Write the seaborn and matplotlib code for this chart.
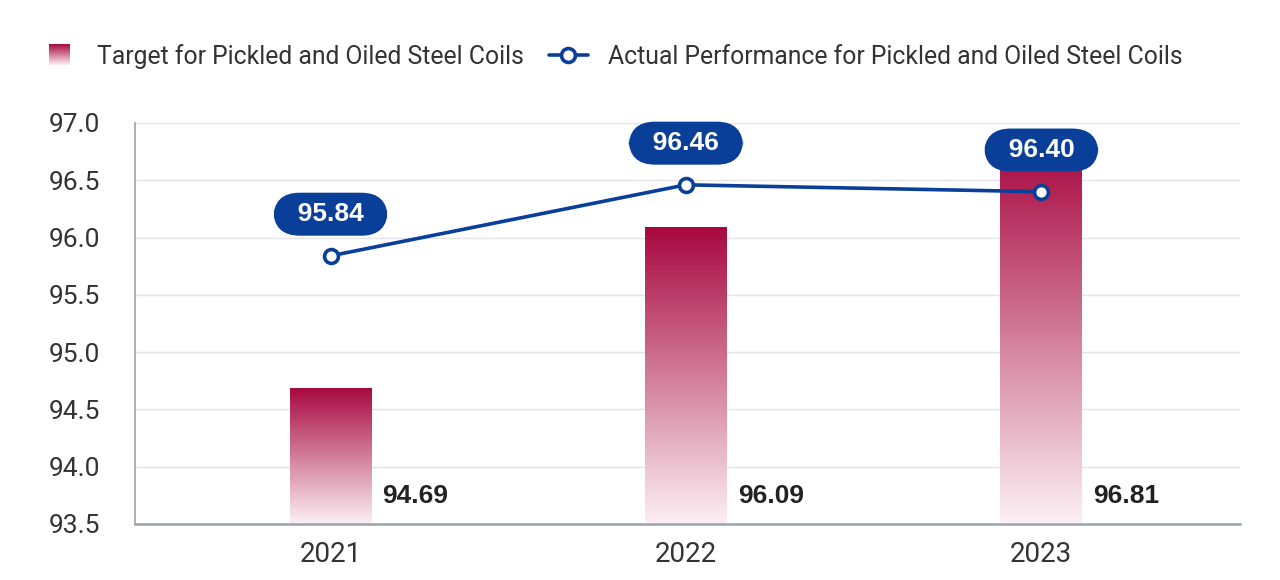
import numpy as np
import pandas as pd
import matplotlib
matplotlib.use("Agg")
import matplotlib.pyplot as plt
import seaborn as sns
from matplotlib.colors import LinearSegmentedColormap
from matplotlib.patches import Rectangle
from matplotlib.lines import Line2D
from matplotlib.image import BboxImage
from matplotlib.transforms import Bbox, TransformedBbox
from matplotlib.legend_handler import HandlerBase

years = ["2021", "2022", "2023"]
target = [94.69, 96.09, 96.81]
actual = [95.84, 96.46, 96.40]
yticks = [93.5, 94.0, 94.5, 95.0, 95.5, 96.0, 96.5, 97.0]

df = pd.DataFrame({"year": years, "target": target, "actual": actual})

sns.set_theme(style="white")
plt.rcParams["font.family"] = ["Roboto", "DejaVu Sans"]

crimson = "#a8083f"
blue = "#0a3f99"
cmap = LinearSegmentedColormap.from_list("grad", ["#fcf0f4", crimson])
grad = np.linspace(0, 1, 256).reshape(-1, 1)

fig = plt.figure(figsize=(12.8, 5.8), dpi=100)
ax = fig.add_axes([0.1055, 0.0966, 0.8635, 0.6914])

bw = 0.23
sns.barplot(data=df, x="year", y="target", ax=ax, width=bw, color=crimson, zorder=2)

# swap the solid bars for vertical gradients
for p in list(ax.patches):
    x0, w, h = p.get_x(), p.get_width(), p.get_height()
    top = p.get_y() + h
    p.set_visible(False)
    im = ax.imshow(grad, cmap=cmap, aspect="auto", origin="lower",
                   extent=[x0, x0 + w, 93.5, top], zorder=2)
    im.set_clip_path(Rectangle((x0, 93.5), w, top - 93.5, transform=ax.transData))

ax.set_xlim(-0.55, 2.56)
ax.set_ylim(93.5, 97.0)

xs = np.arange(len(years))
ax.plot(xs, df["actual"], color=blue, lw=2.6, zorder=4,
        marker="o", markersize=10, markerfacecolor="white",
        markeredgecolor=blue, markeredgewidth=2.6)

for i, v in enumerate(df["actual"]):
    ax.annotate(f"  {v:.2f}  ", (i, v), xytext=(0, 30), textcoords="offset points",
                ha="center", va="center", color="white", fontsize=19, fontweight="bold",
                family=["Liberation Sans", "DejaVu Sans"], zorder=6,
                bbox=dict(boxstyle="round,pad=0.36,rounding_size=1.0", fc=blue, ec="none"))

for i, v in enumerate(df["target"]):
    ax.annotate(f"{v:.2f}", (i + bw / 2, 93.5), xytext=(8, 20), textcoords="offset points",
                ha="left", va="center", color="#222222", fontsize=19, fontweight="bold",
                family=["Liberation Sans", "DejaVu Sans"], zorder=6)

ax.set_yticks(yticks)
ax.set_yticklabels([f"{t:.1f}" for t in yticks])
ax.set_xlabel("")
ax.set_ylabel("")
ax.grid(axis="y", color="#e2e4e6", lw=1, zorder=0)
ax.set_axisbelow(True)
ax.tick_params(axis="y", length=0, pad=25, labelsize=19, labelcolor="#333333")
ax.tick_params(axis="x", length=0, pad=12, labelsize=20, labelcolor="#333333")
for s in ["top", "right"]:
    ax.spines[s].set_visible(False)
ax.spines["left"].set_color("#9aa4aa")
ax.spines["left"].set_linewidth(1.2)
ax.spines["bottom"].set_color("#9aa4aa")
ax.spines["bottom"].set_linewidth(1.8)


class GradHandler(HandlerBase):
    def create_artists(self, legend, orig, xdescent, ydescent, width, height, fontsize, trans):
        side = height * 1.2
        bb = Bbox.from_bounds(-xdescent + (width - side) * 0.6, -ydescent + (height - side) / 2, side, side)
        img = BboxImage(TransformedBbox(bb, trans), cmap=cmap, origin="lower")
        img.set_data(grad)
        return [img]


grad_handle = Rectangle((0, 0), 1, 1, color=crimson)
line_handle = Line2D([], [], color=blue, lw=2.6, marker="o", markersize=10,
                     markerfacecolor="white", markeredgecolor=blue, markeredgewidth=2.6)
fig.legend([grad_handle, line_handle],
           ["Target for Pickled and Oiled Steel Coils",
            "Actual Performance for Pickled and Oiled Steel Coils"],
           handler_map={Rectangle: GradHandler()},
           loc="center left", bbox_to_anchor=(0.012, 0.903), ncol=2, frameon=False,
           fontsize=17.8, labelcolor="#333333", handlelength=1.6, handletextpad=0.8,
           columnspacing=1.0)

fig.savefig("out.png", dpi=100)
